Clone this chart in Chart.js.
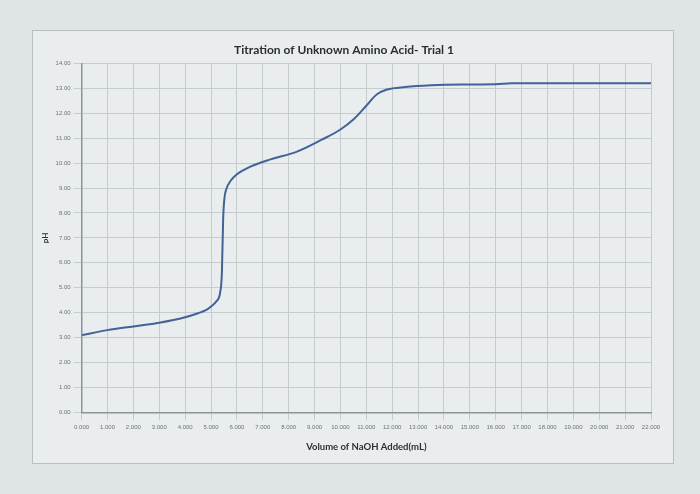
<!DOCTYPE html>
<html>
<head>
<meta charset="utf-8">
<script src="https://cdn.jsdelivr.net/npm/chart.js@4"></script>
<style>
  html, body { margin: 0; padding: 0; }
  body { width: 700px; height: 494px; background: #dfe4e6; position: relative; overflow: hidden; }
  .frame { position: absolute; left: 32px; top: 30px; width: 640px; height: 432px; background: #e9edee; border: 1px solid #b9bec0; }
</style>
</head>
<body>
<div class="frame"><canvas id="myChart" width="640" height="432"></canvas></div>
<script>
// volume of NaOH added (mL) and pH
const volume = [0, 1, 2, 3, 4, 4.5, 4.8, 5.0, 5.2, 5.35, 5.42, 5.47, 5.52, 5.6, 5.75, 6.0, 6.5, 7.3, 8.3, 9.3, 10.0, 10.5, 11.0, 11.4, 11.8, 12.5, 13.5, 14.7, 16.0, 16.6, 18, 20, 22]
const pH = [3.10, 3.30, 3.45, 3.60, 3.82, 3.98, 4.10, 4.25, 4.45, 4.80, 5.60, 7.80, 8.60, 8.98, 9.28, 9.55, 9.85, 10.15, 10.45, 10.95, 11.35, 11.75, 12.30, 12.75, 12.95, 13.05, 13.12, 13.15, 13.16, 13.20, 13.20, 13.20, 13.20]

const xMin = 0, xMax = 22
const yMin = 0, yMax = 14

const ctx = document.getElementById('myChart');

let points = volume.map((v, i) => ({ x: v, y: pH[i] }))

let qraf = new Chart(ctx, {
    type: 'scatter',
    data: {
        datasets: [{
            label: 'pH',
            data: points,
            showLine: true,
            borderColor: '#41629c',
            borderWidth: 2,
            pointRadius: 0,
            cubicInterpolationMode: 'monotone'
        }]
    },
    options: {
        responsive: false,
        animation: false,
        layout: { padding: { left: 4, right: 22, top: 8, bottom: 6 } },
        scales: {
            x: {
                type: 'linear',
                min: xMin,
                max: xMax,
                ticks: {
                    stepSize: 1,
                    maxRotation: 0,
                    autoSkip: false,
                    font: { family: 'Liberation Sans', size: 6 },
                    color: '#6d7274',
                    callback: (v) => v.toFixed(3)
                },
                grid: { color: '#c6cbcd', lineWidth: 1 },
                border: { color: '#8e9496', width: 1.5 },
                title: {
                    display: true,
                    text: 'Volume of NaOH Added(mL)',
                    font: { family: 'Lato', size: 9.5, weight: 'bold' },
                    color: '#2d3133',
                    padding: { top: 8 }
                }
            },
            y: {
                min: yMin,
                max: yMax,
                ticks: {
                    stepSize: 1,
                    font: { family: 'Liberation Sans', size: 6 },
                    color: '#6d7274',
                    callback: (v) => v.toFixed(2)
                },
                grid: { color: '#c6cbcd', lineWidth: 1 },
                border: { color: '#8e9496', width: 1.5 },
                title: {
                    display: true,
                    text: 'pH',
                    font: { family: 'Lato', size: 8, weight: 'bold' },
                    color: '#2d3133',
                    padding: { bottom: 2 }
                }
            }
        },
        plugins: {
            legend: { display: false },
            tooltip: { enabled: false },
            title: {
                display: true,
                text: 'Titration of Unknown Amino Acid- Trial 1',
                font: { family: 'Lato', size: 12, weight: 'bold' },
                color: '#2a2e30',
                padding: { top: 4, bottom: 6 }
            }
        }
    }
});
</script>
</body>
</html>
